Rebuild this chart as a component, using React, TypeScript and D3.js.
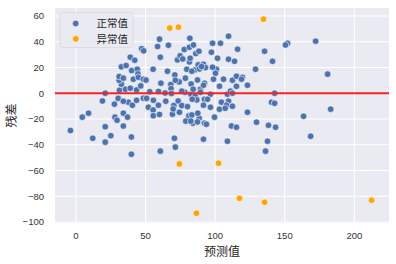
import * as d3 from "d3";

// predicted value / residual pairs
const normalX = [
  -4, 4.5, 9, 12, 21, 21, 19, 21, 25, 28, 29.5, 27.6, 30.3, 31.2, 32.6, 31, 31, 32.6, 36, 34,
  34, 34, 37, 35.5, 37.6, 34, 39, 39, 40, 41.2, 42.2, 40.5, 43.5, 43.5, 44, 44.5, 44.8, 46.5, 47.2, 48.6,
  48.4, 50.3, 48.4, 50.7, 52, 53, 39.8, 39.8, 55.4, 55.6, 55.4, 55.5, 59.2, 59.2, 60, 58.6, 60, 60.6, 61, 60.6,
  64.5, 65.7, 66.4, 64, 68.1, 68.3, 68.6, 69.3, 70.3, 69.8, 71, 72.9, 73.4, 74.1, 71.4, 74.8, 76, 74.3, 76.7, 77.8,
  78.2, 76, 78.6, 79.6, 80.1, 81.1, 81.5, 81.8, 81.5, 82, 82.7, 82.5, 83.2, 83.9, 78.9, 82.5, 84.4, 86.1, 85.4, 83.2,
  85.6, 86.8, 87.3, 88.3, 87.8, 88.5, 84.2, 83.5, 87.3, 87.5, 70.7, 71.4,
  109.6, 98.1, 103.8, 116.1, 97.3, 135.5, 152, 150.5, 172.2, 101.7, 109.6, 113.9, 141.2, 91.6, 88.7, 93, 90.2, 100.9, 100.2, 129,
  180.8, 92.3, 98.8, 106, 112.4, 115.3, 119.6, 118.9, 103.1, 115.3, 123.2, 89.4, 89.4, 96.6, 108.8, 142.7, 92.3, 94.5, 91.6, 96.6,
  104.5, 109.6, 108.1, 103.1, 140.5, 142.7, 183, 123.2, 99.5, 163.5, 92.3, 93.7, 111.7, 115.3, 129.7, 138.3, 143.4, 91.6, 108.8, 137.6,
  136.2, 168.6, 91.6, 107.2, 112.4, 111, 112.4, 98.1,
];
const normalY = [
  -29, -18.6, -15.5, -35, -38, -26, -6, 0, -33, -18.6, -21, -8.5, -4, 2.3, 7, 10, 13, 20.5, 21.5, 11.7,
  -15.5, -25.5, -18.6, 3.1, -7, -6.2, 3.9, 28, 17.6, 10.9, 25.6, -9.3, 2.5, -5.5, 18.6, 15, 12.4, 5.7, 34.6, 32.9,
  10.9, 10.2, -3.9, -4, -10.9, 1.2, -34, -47.4, 18.6, -5.5, -13, -17.5, 1.4, -9.3, -16.5, 36.3, 42, 28, 7.8, -45,
  -6.2, 17.1, 37.3, 0.2, 6.8, 3.5, -0.2, -16.3, -9.5, -12.2, 14.2, 25.9, -6, 8.8, 10.1, 29, -9.6, -14.8, 26.6, 34,
  0.8, 1.6, 11.7, 18.6, -10.4, -17.6, 24.3, 42.7, 35.7, 27.2, 7.2, -0.8, -16.9, -23.3, -21.7, -21.7, 37.5, 30.8, 18.1, 17.1,
  -2.1, -5.2, 10.3, 32.6, 22, -19.4, 3.1, -4.7, -22.3, -15.5, -35, -41.9,
  44.3, 38.8, 38.8, 34.2, 31.8, 32.6, 38.8, 37.5, 40.4, 27.2, 26.4, 24.8, 24.8, 22.5, 18.9, 19.9, 20.7, 18.6, 15.5, 18.6,
  14.8, 7.8, 10.9, 10.9, 10.1, 13.2, 12.4, 10.9, 5.4, 5.4, 6.2, 3.1, 0.8, -0.8, -0.8, 0, -4.7, -4.7, -9.3, -10.9,
  -7, -6.2, -9.3, -12.4, -7, -7.8, -12.4, -14.8, -18.6, -17.9, -23.3, -24.1, -25.4, -26.4, -22.5, -24.9, -26.4, -35.7, -37.3, -37.3,
  -45, -33.4, 6.2, -11.7, -10.1, 1.6, 0, 20.2,
];
const outlierX = [67.3, 73.6, 134.7, 74.3, 102.4, 86.5, 117.5, 135.5, 212.4];
const outlierY = [50.6, 51.3, 57.5, -54.9, -54.4, -93.2, -81.6, -84.7, -83.1];

const xTicks = [0, 50, 100, 150, 200];
const yTicks = [-100, -80, -60, -40, -20, 0, 20, 40, 60];
const legendLabels = ["正常值", "异常值"];
const xLabel = "预测值";
const yLabel = "残差";

const W = 396;
const H = 264;
const m = { left: 55, right: 7, top: 8, bottom: 41 };
const BLUE = "#4C72B0";
const ORANGE = "#FFA500";
const fmt = (v: number) => (v < 0 ? "\u2212" + Math.abs(v) : String(v));

export default function App() {
  const x = d3.scaleLinear().domain([-15.1, 224.9]).range([m.left, W - m.right]);
  const y = d3.scaleLinear().domain([-100.8, 66.2]).range([H - m.bottom, m.top]);
  const normal = normalX.map((v, i) => [v, normalY[i]]);
  const outliers = outlierX.map((v, i) => [v, outlierY[i]]);
  const [x0, x1] = x.range();
  const [y1, y0] = y.range();

  return (
    <div style={{ position: "absolute", left: 0, top: 0 }}>
      <svg width={W} height={H} style={{ display: "block", fontFamily: "'Liberation Sans', sans-serif" }}>
        <rect width={W} height={H} fill="#fff" />
        <rect x={x0} y={y0} width={x1 - x0} height={y1 - y0} fill="#EAEAF2" />
        {xTicks.map((t) => (
          <line key={"gx" + t} x1={x(t)} x2={x(t)} y1={y0} y2={y1} stroke="#fff" strokeWidth={1} />
        ))}
        {yTicks.map((t) => (
          <line key={"gy" + t} x1={x0} x2={x1} y1={y(t)} y2={y(t)} stroke="#fff" strokeWidth={1} />
        ))}
        {normal.map(([a, b], i) => (
          <circle key={"n" + i} cx={x(a)} cy={y(b)} r={3.3} fill={BLUE} stroke="#fff" strokeWidth={0.6} />
        ))}
        {outliers.map(([a, b], i) => (
          <circle key={"o" + i} cx={x(a)} cy={y(b)} r={3.3} fill={ORANGE} stroke="#fff" strokeWidth={0.6} />
        ))}
        <line x1={x0} x2={x1} y1={y(0)} y2={y(0)} stroke="#F52424" strokeWidth={1.8} />
        {xTicks.map((t) => (
          <text key={"tx" + t} x={x(t)} y={y1 + 16} fontSize={9.5} fill="#333" textAnchor="middle">
            {fmt(t)}
          </text>
        ))}
        {yTicks.map((t) => (
          <text key={"ty" + t} x={x0 - 11} y={y(t)} dy="0.35em" fontSize={9.5} fill="#333" textAnchor="end">
            {fmt(t)}
          </text>
        ))}
        <text x={(x0 + x1) / 2} y={y1 + 33} fontSize={12} fill="#262626" textAnchor="middle"
          fontFamily="'Noto Sans CJK SC', sans-serif">
          {xLabel}
        </text>
        <text transform={`translate(12,${(y0 + y1) / 2}) rotate(-90)`} fontSize={12} fill="#262626"
          textAnchor="middle" dy="0.35em" fontFamily="'Noto Sans CJK SC', sans-serif">
          {yLabel}
        </text>
        <g transform={`translate(${x0 + 5},${y0 + 4.5})`}>
          <rect width={73} height={35} rx={3} fill="#EAEAF2" stroke="#D8D8DC" strokeWidth={0.8} />
          {legendLabels.map((l, i) => (
            <g key={l} transform={`translate(0,${11 + i * 15.4})`}>
              <circle cx={15.7} cy={0} r={3.3} fill={i === 0 ? BLUE : ORANGE} stroke="#fff" strokeWidth={0.6} />
              <text x={36.5} dy="0.36em" fontSize={10.5} fill="#262626" fontFamily="'Noto Sans CJK SC', sans-serif">
                {l}
              </text>
            </g>
          ))}
        </g>
      </svg>
    </div>
  );
}
